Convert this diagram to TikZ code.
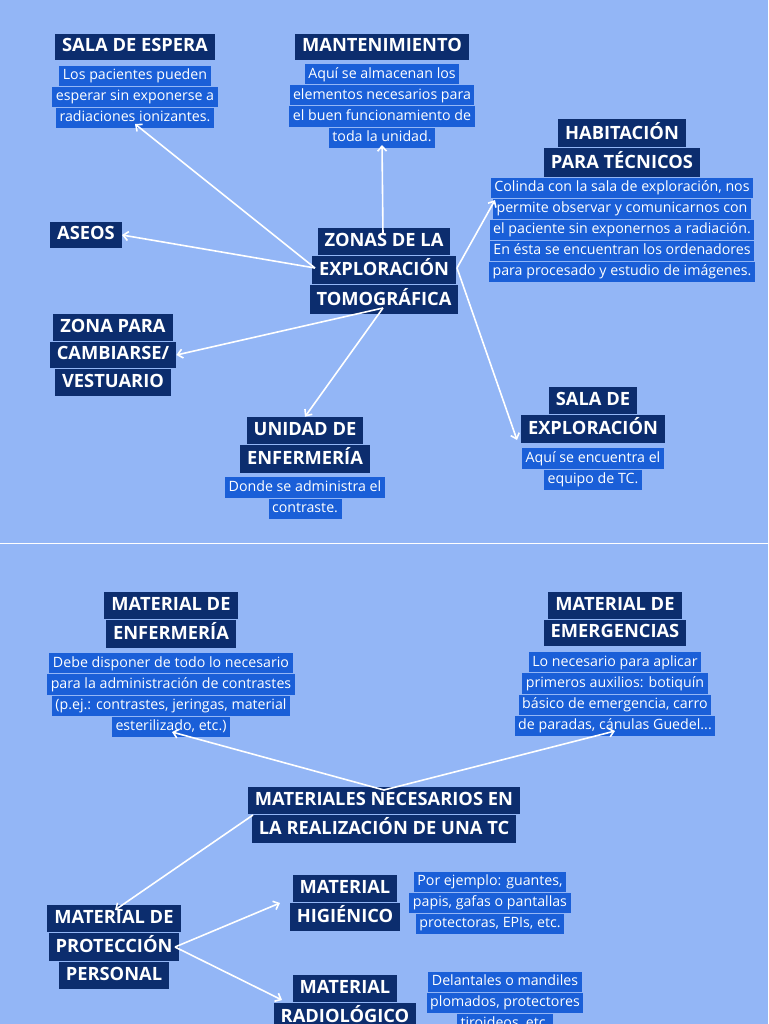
\documentclass[tikz,border=0pt]{standalone}
\usepackage{fontspec}
\setmainfont{Open Sans}
\usetikzlibrary{arrows.meta}
\definecolor{bg}{HTML}{93B6F6}
\definecolor{navy}{HTML}{0C2D6E}
\definecolor{lblue}{HTML}{1A5FD8}
\newcommand{\mystrut}{\rule[-0.3em]{0pt}{1.13em}}
\newcommand{\tl}[1]{{\setlength{\fboxsep}{3pt}\colorbox{navy}{\hspace{4pt}\mystrut #1\hspace{4pt}}}}
\newcommand{\dl}[1]{{\setlength{\fboxsep}{2pt}\colorbox{lblue}{\hspace{1.5pt}\mystrut #1\hspace{1.5pt}}}}
\tikzset{
 ttl/.style={inner sep=0pt, align=center, text=white, font=\bfseries\fontsize{18.3}{25.5}\selectfont},
 dsc/.style={inner sep=0pt, align=center, text=white, font=\fontsize{14.2}{19.3}\selectfont},
 arr/.style={draw=white, line width=1.6pt, -{Straight Barb[length=5pt,width=9pt]}}
}
\begin{document}
\begin{tikzpicture}[x=1pt,y=-1pt]
\fill[bg] (0,0) rectangle (768,1024);
\useasboundingbox (0,0) rectangle (768,1024);
\draw[white, line width=1pt] (0,543) -- (768,543);
% top
\node[ttl] (se) at (135,47) {\tl{SALA DE ESPERA}};
\node[dsc] (sed) at (135,97) {\dl{Los pacientes pueden}\\\dl{esperar sin exponerse a}\\\dl{radiaciones ionizantes.}};
\node[ttl] (mt) at (382,47) {\tl{MANTENIMIENTO}};
\node[dsc] (mtd) at (382,106) {\dl{Aquí se almacenan los}\\\dl{elementos necesarios para}\\\dl{el buen funcionamiento de}\\\dl{toda la unidad.}};
\node[ttl] (ht) at (622,148) {\tl{HABITACIÓN}\\\tl{PARA TÉCNICOS}};
\node[dsc] (htd) at (622,230) {\dl{Colinda con la sala de exploración, nos}\\\dl{permite observar y comunicarnos con}\\\dl{el paciente sin exponernos a radiación.}\\\dl{En ésta se encuentran los ordenadores}\\\dl{para procesado y estudio de imágenes.}};
\node[ttl] (as) at (86,235) {\tl{ASEOS}};
\node[ttl] (hub) at (384,271) {\tl{ZONAS DE LA}\\\tl{EXPLORACIÓN}\\\tl{TOMOGRÁFICA}};
\node[ttl] (zp) at (113,355) {\tl{ZONA PARA}\\\tl{CAMBIARSE/}\\\tl{VESTUARIO}};
\node[ttl] (ue) at (305,445) {\tl{UNIDAD DE}\\\tl{ENFERMERÍA}};
\node[dsc] (ued) at (305,498) {\dl{Donde se administra el}\\\dl{contraste.}};
\node[ttl] (sx) at (593,415) {\tl{SALA DE}\\\tl{EXPLORACIÓN}};
\node[dsc] (sxd) at (593,469) {\dl{Aquí se encuentra el}\\\dl{equipo de TC.}};
\coordinate (h1) at (315,268); \coordinate (h2) at (383,235);
\coordinate (h3) at (383,308); \coordinate (h4) at (457,268);
\draw[arr] (h1) -- (135,124);
\draw[arr] (h2) -- (382,145);
\draw[arr] (h1) -- (as.east);
\draw[arr] (h3) -- (zp.east);
\draw[arr] (h3) -- (ue.north);
\draw[arr] (h4) -- (495,200);
\draw[arr] (h4) -- (517,440);
% bottom
\node[ttl] (me) at (171,620) {\tl{MATERIAL DE}\\\tl{ENFERMERÍA}};
\node[dsc] (med) at (171,695) {\dl{Debe disponer de todo lo necesario}\\\dl{para la administración de contrastes}\\\dl{(p.ej.: contrastes, jeringas, material}\\\dl{esterilizado, etc.)}};
\node[ttl] (mg) at (615,619) {\tl{MATERIAL DE}\\\tl{EMERGENCIAS}};
\node[dsc] (mgd) at (615,694) {\dl{Lo necesario para aplicar}\\\dl{primeros auxilios: botiquín}\\\dl{básico de emergencia, carro}\\\dl{de paradas, cánulas Guedel...}};
\node[ttl] (mh) at (384,815) {\tl{MATERIALES NECESARIOS EN}\\\tl{LA REALIZACIÓN DE UNA TC}};
\node[ttl] (pp) at (114,947) {\tl{MATERIAL DE}\\\tl{PROTECCIÓN}\\\tl{PERSONAL}};
\node[ttl] (hi) at (345,903) {\tl{MATERIAL}\\\tl{HIGIÉNICO}};
\node[dsc] (hid) at (490,903) {\dl{Por ejemplo: guantes,}\\\dl{papis, gafas o pantallas}\\\dl{protectoras, EPIs, etc.}};
\node[ttl] (ra) at (345,1003) {\tl{MATERIAL}\\\tl{RADIOLÓGICO}};
\node[dsc] (rad) at (505,1003) {\dl{Delantales o mandiles}\\\dl{plomados, protectores}\\\dl{tiroideos, etc.}};
\coordinate (m1) at (384,790); \coordinate (m2) at (253,815); \coordinate (p1) at (175,947);
\draw[arr] (m1) -- (172,732);
\draw[arr] (m1) -- (615,731);
\draw[arr] (m2) -- (115,910);
\draw[arr] (p1) -- (280,903);
\draw[arr] (p1) -- (282,1000);
\end{tikzpicture}
\end{document}
